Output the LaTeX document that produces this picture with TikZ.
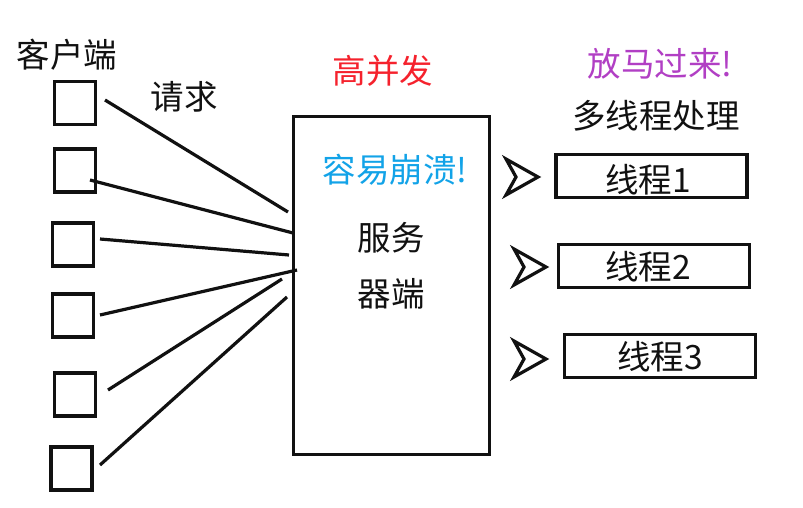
\documentclass[tikz,border=0pt]{standalone}
\usepackage{fontspec}
\setmainfont{Noto Sans CJK SC}
\definecolor{alarmred}{HTML}{F5222D}
\definecolor{comepurple}{HTML}{B13FC4}
\definecolor{crashblue}{HTML}{12A3E8}
\definecolor{ink}{HTML}{111111}
\tikzset{
    client/.style = {rectangle,
                    fill=white,
                    draw=ink,
                    line width=3.8pt,
                    inner sep=0pt,
                    minimum width=41pt,
                    minimum height=43pt},
    server/.style = {rectangle,
                    fill=white,
                    draw=ink,
                    line width=3.8pt,
                    inner sep=0pt,
                    minimum width=196pt,
                    minimum height=338pt},
    worker/.style = {rectangle,
                    fill=white,
                    draw=ink,
                    line width=3.8pt,
                    inner sep=0pt,
                    minimum width=191pt,
                    minimum height=43pt},
    label/.style =  {text=ink,
                    inner sep=0pt,
                    font=\fontsize{33.5}{33.5}\selectfont},
    request/.style = {draw=ink,
                    line width=3.2pt},
    chevron/.pic = {
        \draw[draw=ink,line width=3.2pt,fill=white,miter limit=6]
            (-16,-18) -- (16,0) -- (-16,18) -- (-6,0) -- cycle;
    },
}
\begin{document}
\begin{tikzpicture}[x=1pt,y=-1pt]
                \useasboundingbox (0,0) rectangle (803,508);
                \node[server]       (S)  at (391.5,285.5)   {};
                \node[client]       (C1) at (75,103)        {};
                \node[client]       (C2) at (75,170.5)      {};
                \node[client]       (C3) at (73,244.5)      {};
                \node[client]       (C4) at (73,315.5)      {};
                \node[client]       (C5) at (75,394.5)      {};
                \node[client]       (C6) at (71.5,468.5)    {};
                % free ends of the requests
                \coordinate (a1) at (105,100);
                \coordinate (b1) at (288,212);
                \coordinate (a2) at (90,180);
                \coordinate (b2) at (293,233);
                \coordinate (a3) at (100,239);
                \coordinate (b3) at (289,255);
                \coordinate (a4) at (100,315);
                \coordinate (b4) at (297,270);
                \coordinate (a5) at (108,390);
                \coordinate (b5) at (282,279);
                \coordinate (a6) at (100,465);
                \coordinate (b6) at (287,297);
                \path [request]  (a1) edge (b1)
                                 (a2) edge (b2)
                                 (a3) edge (b3)
                                 (a4) edge (b4)
                                 (a5) edge (b5)
                                 (a6) edge (b6);
                \node[worker]       (W1) at (651.5,176)     {};
                \node[worker]       (W2) at (654,266)       {};
                \node[worker]       (W3) at (660,356)       {};
                \pic at (522,177) {chevron};
                \pic at (530,267) {chevron};
                \pic at (530,359) {chevron};
                \node[label]        (T1) at (648,180)       {线程1};
                \node[label]        (T2) at (648,267)       {线程2};
                \node[label]        (T3) at (660,357)       {线程3};
                \node[label]        (L1) at (67,55)         {客户端};
                \node[label]        (L2) at (184,97)        {请求};
                \node[label,text=alarmred]   (L3) at (383,71)   {高并发};
                \node[label,text=comepurple] (L4) at (660,64)   {放马过来!};
                \node[label]        (L5) at (656,116)       {多线程处理};
                \node[label,text=crashblue]  (L6) at (395,170)  {容易崩溃!};
                \node[label]        (L7) at (391,238)       {服务};
                \node[label]        (L8) at (391,294)       {器端};
        \end{tikzpicture}
\end{document}
